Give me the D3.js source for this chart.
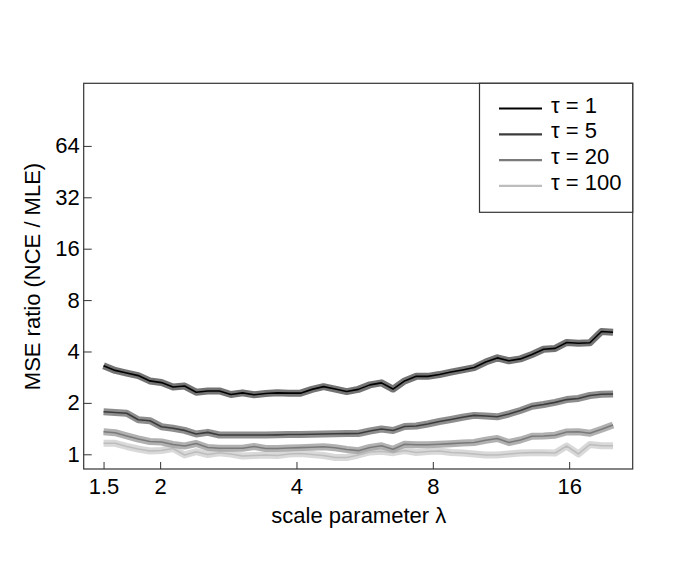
<!DOCTYPE html>
<html><head><meta charset="utf-8">
<script src="https://cdn.jsdelivr.net/npm/d3@7"></script>
<style>body{margin:0;background:#fff}svg{display:block}text{font-family:"Liberation Sans",Arial,sans-serif}</style>
</head><body>
<svg id="c" width="676" height="574"></svg>
<script>
// lambda grid: 45 log-spaced points from 1.5 to 20
const lambdaStart = 1.5, lambdaEnd = 20, nPoints = 45;
const lambdas = d3.range(nPoints).map(i => lambdaStart * Math.pow(lambdaEnd / lambdaStart, i / (nPoints - 1)));

const tau1 = [3.30,3.10,2.99,2.89,2.69,2.63,2.48,2.51,2.31,2.35,2.35,2.24,2.29,2.23,2.27,2.29,2.28,2.28,2.40,2.49,2.41,2.33,2.40,2.55,2.62,2.41,2.69,2.86,2.86,2.93,3.03,3.12,3.22,3.47,3.67,3.53,3.62,3.84,4.12,4.17,4.52,4.47,4.50,5.24,5.18];
const tau5 = [1.776,1.757,1.738,1.593,1.573,1.451,1.420,1.380,1.315,1.344,1.297,1.297,1.297,1.297,1.297,1.300,1.305,1.306,1.310,1.315,1.318,1.322,1.324,1.369,1.407,1.379,1.455,1.465,1.505,1.556,1.599,1.647,1.690,1.676,1.658,1.722,1.805,1.910,1.957,2.014,2.091,2.123,2.210,2.249,2.255];
const tau20 = [1.356,1.338,1.280,1.229,1.188,1.180,1.141,1.118,1.157,1.096,1.084,1.084,1.084,1.111,1.081,1.081,1.089,1.094,1.100,1.106,1.091,1.067,1.050,1.096,1.121,1.070,1.144,1.137,1.137,1.144,1.154,1.165,1.173,1.208,1.237,1.173,1.213,1.275,1.280,1.294,1.351,1.356,1.327,1.401,1.485];
const tau100 = [1.160,1.160,1.111,1.074,1.045,1.052,1.081,0.991,1.036,0.997,1.022,1.004,0.977,0.984,0.991,0.984,1.004,1.011,0.997,0.984,0.958,0.958,0.991,1.032,1.041,1.022,1.052,1.025,1.038,1.045,1.025,1.018,1.004,0.991,0.991,1.004,1.018,1.022,1.022,1.018,1.118,1.004,1.141,1.123,1.123];

const seriesNames = ["τ = 1", "τ = 5", "τ = 20", "τ = 100"];
const seriesValues = [tau1, tau5, tau20, tau100];
const lineColors = ["#000000", "#3c3c3c", "#7a7a7a", "#bdbdbd"];
const bandColors = ["#5a5a5a", "#7a7a7a", "#a3a3a3", "#d2d2d2"];

const xTicks = [1.5, 2, 4, 8, 16];
const yTicks = [1, 2, 4, 8, 16, 32, 64];

const L = 83.7, R = 632.7, T = 83.3, B = 469;
const FS = 22;
const svg = d3.select("#c");
const x = d3.scaleLog().base(2).domain([1.356, 22.1]).range([L, R]);
const y = d3.scaleLog().base(2).domain([0.820, 148.9]).range([B, T]);

const line = d3.line().x((d, i) => x(lambdas[i])).y(d => y(d));

// series: band then center line (lightest drawn first)
for (let s = seriesValues.length - 1; s >= 0; s--) {
  svg.append("path").datum(seriesValues[s]).attr("d", line)
    .attr("fill", "none").attr("stroke", bandColors[s]).attr("stroke-width", 7)
    .attr("stroke-opacity", 0.85).attr("stroke-linejoin", "round");
  svg.append("path").datum(seriesValues[s]).attr("d", line)
    .attr("fill", "none").attr("stroke", lineColors[s]).attr("stroke-width", 1.6)
    .attr("stroke-linejoin", "round");
}

// frame
svg.append("rect").attr("x", L).attr("y", T).attr("width", R - L).attr("height", B - T)
  .attr("fill", "none").attr("stroke", "#333").attr("stroke-width", 1.2);

// axes (inward ticks)
const xAxis = d3.axisBottom(x).tickValues(xTicks).tickFormat(d3.format("")).tickSizeInner(-7).tickSizeOuter(0).tickPadding(9);
const gx = svg.append("g").attr("transform", `translate(0,${B})`).call(xAxis);
gx.select(".domain").remove();
gx.selectAll("line").attr("stroke", "#333");
gx.selectAll("text").attr("font-size", FS).attr("fill", "#000").attr("font-family", '"Liberation Sans",Arial,sans-serif');

const yAxis = d3.axisLeft(y).tickValues(yTicks).tickFormat(d3.format("d")).tickSizeInner(-8).tickSizeOuter(0).tickPadding(4);
const gy = svg.append("g").attr("transform", `translate(${L},0)`).call(yAxis);
gy.select(".domain").remove();
gy.selectAll("line").attr("stroke", "#333");
gy.selectAll("text").attr("font-size", FS).attr("fill", "#000").attr("font-family", '"Liberation Sans",Arial,sans-serif');

// axis titles
svg.append("text").attr("x", 358.8).attr("y", 522.7).attr("text-anchor", "middle")
  .attr("font-size", FS).text("scale parameter λ");
svg.append("text").attr("transform", "translate(40,276.5) rotate(-90)").attr("text-anchor", "middle")
  .attr("font-size", FS).text("MSE ratio (NCE / MLE)");

// legend
const lg = svg.append("g");
lg.append("rect").attr("x", 479.5).attr("y", T).attr("width", R - 479.5).attr("height", 129)
  .attr("fill", "#fff").attr("stroke", "#333").attr("stroke-width", 1.2);
seriesNames.forEach((n, i) => {
  const yy = 108.5 + i * 25.8;
  lg.append("line").attr("x1", 499).attr("x2", 542).attr("y1", yy).attr("y2", yy)
    .attr("stroke", lineColors[i]).attr("stroke-width", 2.2);
  lg.append("text").attr("x", 551).attr("y", yy + 4).attr("font-size", FS).text(n);
});
</script>
</body></html>
